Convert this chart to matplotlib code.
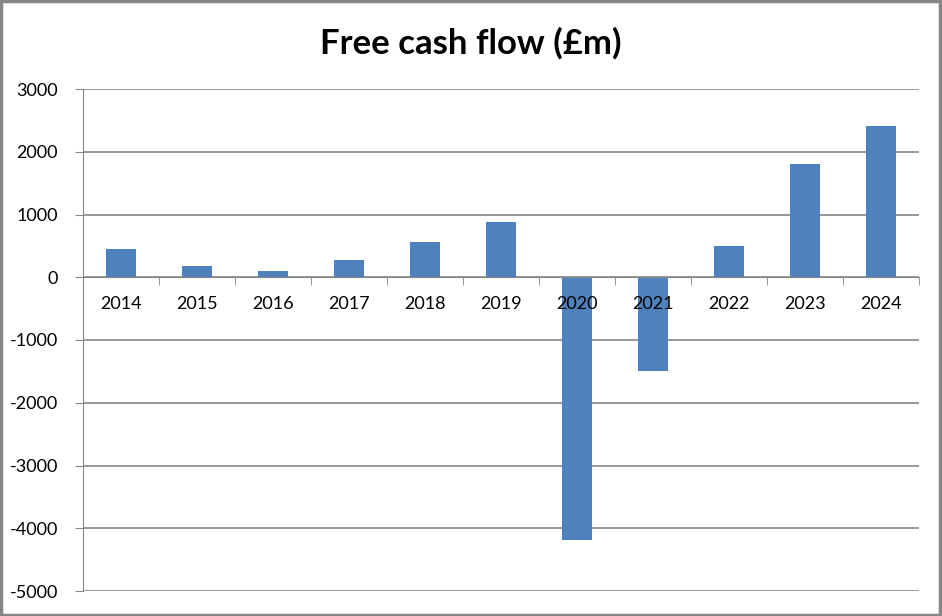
import matplotlib
matplotlib.use("Agg")
import matplotlib.pyplot as plt
from matplotlib.patches import Rectangle
import numpy as np

years = ["2014", "2015", "2016", "2017", "2018", "2019", "2020", "2021", "2022", "2023", "2024"]
fcf = [445, 175, 95, 270, 556, 875, -4190, -1494, 493, 1812, 2416]

plt.rcParams['font.family'] = ['Lato', 'DejaVu Sans']
plt.rcParams['axes.unicode_minus'] = False

fig = plt.figure(figsize=(9.42, 6.16), dpi=100)
ax = fig.add_axes([83/942, 1-591/616, (919-83)/942, (591-89)/616])

x = np.arange(len(years))
ax.set_axisbelow(True)
ax.bar(x, fcf, width=0.39, color='#4F81BD', zorder=3)

ax.set_xlim(-0.5, len(years)-0.5)
ax.set_ylim(-5000, 3000)
ax.set_yticks(range(-5000, 3001, 1000))
ax.grid(axis='y', color='#868686', linewidth=1.2)

# x axis sits at zero, category labels between boundary ticks
ax.spines['bottom'].set_position(('data', 0))
ax.spines['bottom'].set_color('#868686')
ax.spines['bottom'].set_zorder(4)
ax.spines['left'].set_color('#868686')
ax.spines['top'].set_visible(False)
ax.spines['right'].set_visible(False)
ax.set_xticks(x)
ax.set_xticklabels([])
ax.set_xticks(np.arange(0.5, len(years)-0.5 + 0.01, 1), minor=True)
ax.tick_params(axis='x', which='major', length=0)
ax.tick_params(axis='x', which='minor', length=6, color='#868686', direction='out')
ax.tick_params(axis='y', length=6, color='#868686', labelsize=13, pad=12)

# year labels drawn over the bars, as in the original
for xi, yr in zip(x, years):
    ax.annotate(yr, (xi, 0), xytext=(0, -27), textcoords='offset pixels',
                ha='center', va='center', fontsize=13, zorder=5)

fig.text(0.5, 1-43/616, "Free cash flow (£m)", ha='center', va='center',
         fontsize=25, fontweight='bold')

fig.patches.append(Rectangle((0.001, 0.002), 0.997, 0.996, transform=fig.transFigure,
                             fill=False, edgecolor='#868686', linewidth=2.5))

fig.savefig('out.png', dpi=100)
